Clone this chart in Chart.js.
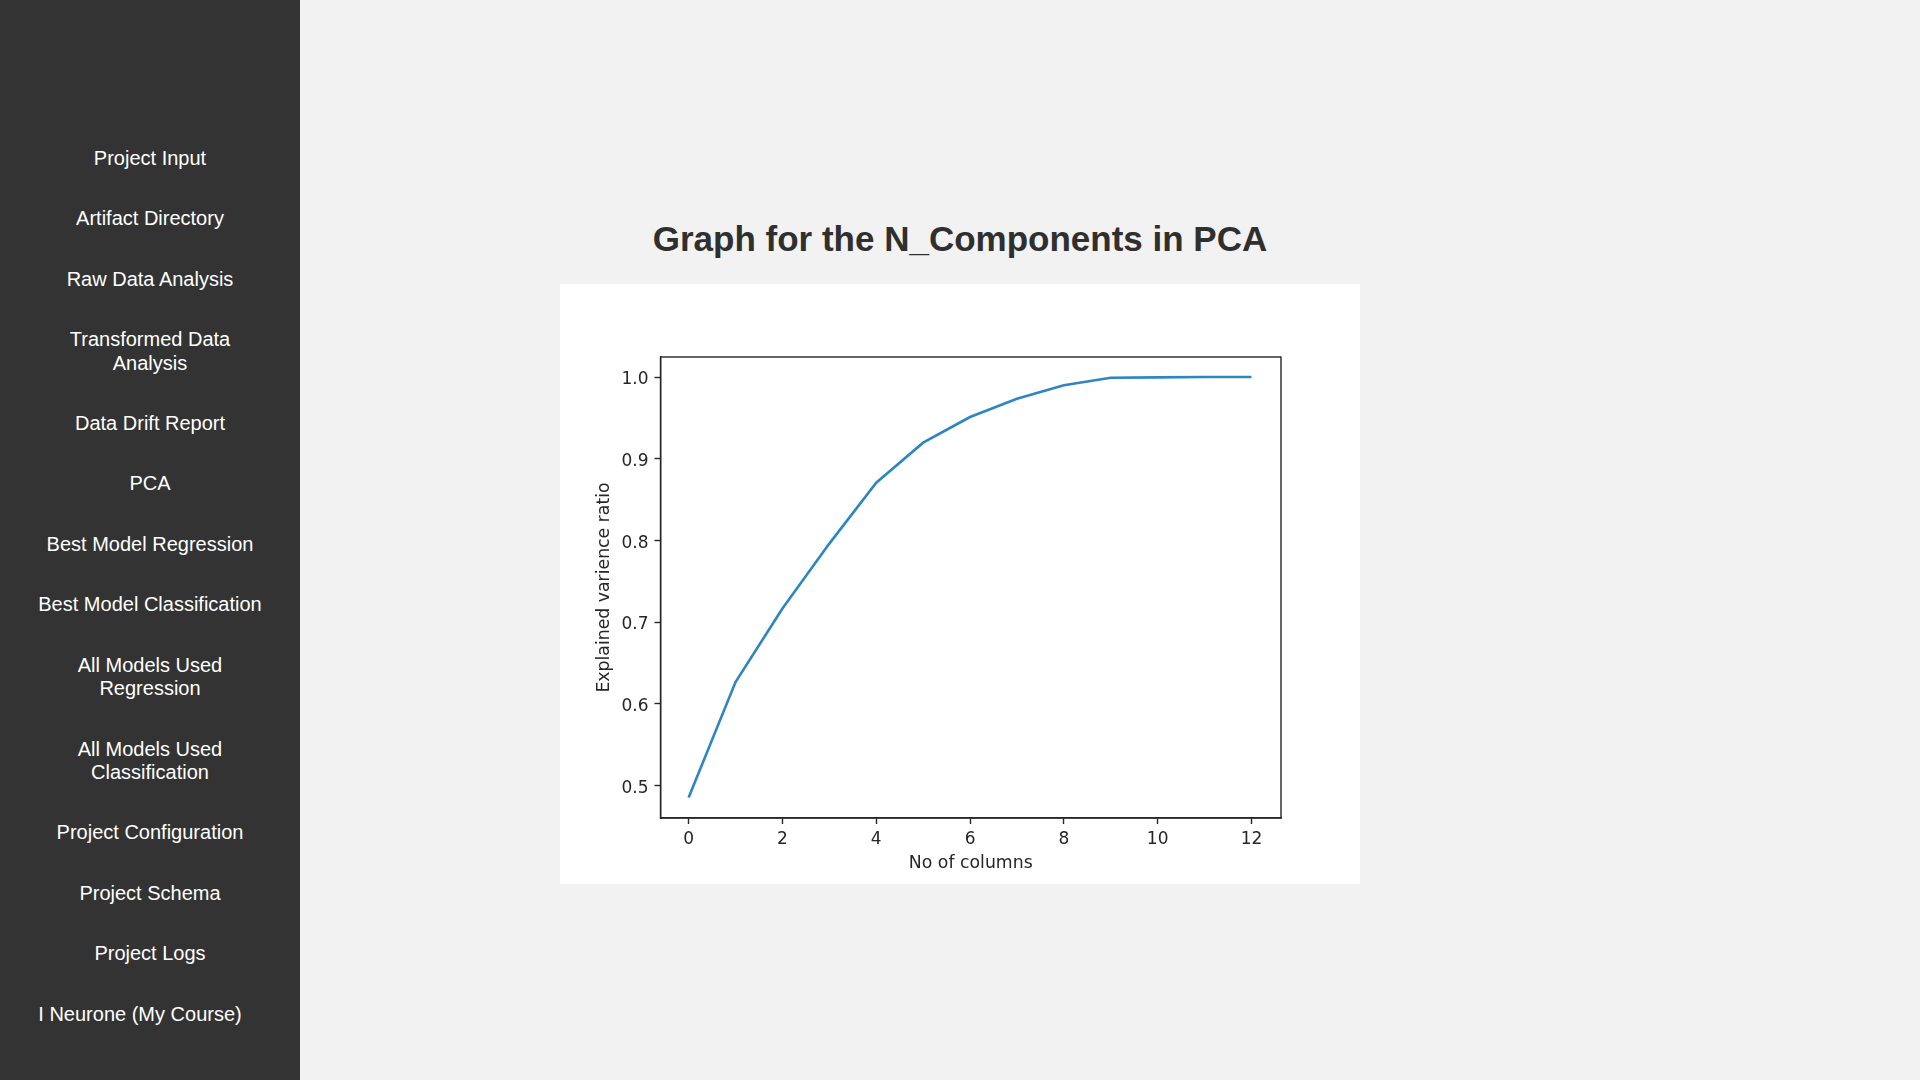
<!DOCTYPE html>
<html>
<head>
<meta charset="utf-8">
<title>PCA</title>
<script src="https://cdn.jsdelivr.net/npm/chart.js@4"></script>
<style>
  html, body { margin:0; padding:0; height:100%; background:#f2f2f2; overflow:hidden; }
  body { font-family:"Liberation Sans", Arial, sans-serif; }
  #sidebar { position:absolute; left:0; top:0; width:300px; height:1080px; background:#333; padding-top:147px; box-sizing:border-box; }
  #sidebar a { display:block; color:#fff; font-size:20px; line-height:23.3px; text-align:center; margin:0 32px 37.15px; text-decoration:none; }
  #sidebar a.last { position:relative; left:-10px; }
  h1 { position:absolute; left:300px; width:1320px; top:218px; margin:0; text-align:center; font-size:35px; line-height:42px; font-weight:bold; color:#2f2f2f; }
  #panel { position:absolute; left:560px; top:284px; width:800px; height:600px; background:#fff; }
</style>
</head>
<body>
<div id="sidebar"></div>
<h1>Graph for the N_Components in PCA</h1>
<div id="panel"><canvas id="myChart" width="800" height="600"></canvas></div>
<script>
const menuItems = ['Project Input','Artifact Directory','Raw Data Analysis','Transformed Data Analysis','Data Drift Report','PCA','Best Model Regression','Best Model Classification','All Models Used Regression','All Models Used Classification','Project Configuration','Project Schema','Project Logs','I Neurone (My Course)'];
const components = [0,1,2,3,4,5,6,7,8,9,10,11,12];
const varianceRatio = [0.485,0.6265,0.7166,0.796,0.8706,0.9196,0.951,0.9733,0.990,0.999,0.9995,1.0,1.0];
const xTicks = [0,2,4,6,8,10,12];
const yTicks = [0.5,0.6,0.7,0.8,0.9,1.0];

const sidebar = document.getElementById('sidebar');
menuItems.forEach((item, i) => {
  const a = document.createElement('a');
  a.textContent = item;
  a.href = '#';
  if (i === menuItems.length - 1) a.className = 'last';
  sidebar.appendChild(a);
});

const ink = '#262626';
const tickFont = { family:'"DejaVu Sans"', size:17 };
const titleFont = { family:'"DejaVu Sans"', size:17.3 };

// chart.js only draws left and bottom borders, this adds the top and right ones
const frame = {
  id:'frame',
  afterDatasetsDraw(chart) {
    const { ctx, chartArea:a } = chart;
    ctx.save();
    ctx.strokeStyle = ink;
    ctx.lineWidth = 1.4;
    ctx.strokeRect(a.left, a.top, a.right - a.left, a.bottom - a.top);
    ctx.restore();
  }
};

new Chart(document.getElementById('myChart'), {
  type:'scatter',
  data:{
    datasets:[{
      data:components.map((c, i) => ({ x:c, y:varianceRatio[i] })),
      showLine:true,
      borderColor:'#2e86c1',
      borderWidth:2.6,
      pointRadius:0,
      tension:0
    }]
  },
  plugins:[frame],
  options:{
    responsive:false,
    animation:false,
    layout:{ padding:{ top:73, right:79 } },
    plugins:{ legend:{ display:false }, tooltip:{ enabled:false } },
    scales:{
      x:{
        type:'linear', min:-0.6, max:12.63,
        afterBuildTicks(axis) { axis.ticks = xTicks.map(v => ({ value:v })); },
        afterFit(axis) { axis.height = 66; },
        grid:{ drawOnChartArea:false, tickLength:6, tickColor:ink, tickWidth:1.4 },
        border:{ color:ink, width:1.4 },
        ticks:{ color:ink, font:tickFont, padding:5, maxRotation:0, autoSkip:false, callback:v => String(v) },
        title:{ display:true, text:'No of columns', color:ink, font:titleFont, padding:{ top:0, bottom:10 } }
      },
      y:{
        type:'linear', min:0.46, max:1.0245,
        afterBuildTicks(axis) { axis.ticks = yTicks.map(v => ({ value:v })); },
        afterFit(axis) { axis.width = 100.5; },
        grid:{ drawOnChartArea:false, tickLength:6, tickColor:ink, tickWidth:1.4 },
        border:{ color:ink, width:1.4 },
        ticks:{ color:ink, font:tickFont, padding:6, labelOffset:3, autoSkip:false, callback:v => v.toFixed(1) },
        title:{ display:true, text:'Explained varience ratio', color:ink, font:titleFont, padding:{ top:34, bottom:0 } }
      }
    }
  }
});
</script>
</body>
</html>
